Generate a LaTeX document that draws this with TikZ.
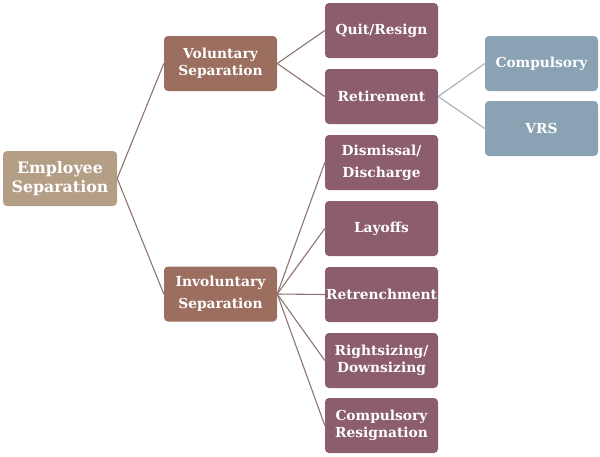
\documentclass[tikz,border=0pt]{standalone}
\usepackage{fontspec}
\setmainfont{DejaVu Serif}
\definecolor{tanc}{HTML}{B49F86}
\definecolor{brownc}{HTML}{9C6E5F}
\definecolor{purplec}{HTML}{8C5C6F}
\definecolor{bluec}{HTML}{8AA3B4}
\definecolor{linec}{HTML}{8E7470}
\definecolor{bluelinec}{HTML}{A3AFB8}
\begin{document}
\begin{tikzpicture}[x=1pt,y=-1pt,
  box/.style={rounded corners=4pt, minimum width=113pt, minimum height=55pt, inner sep=1pt,
    text=white, font=\bfseries\fontsize{13.8}{17}\selectfont, align=center},
  widebox/.style={box, font=\bfseries\fontsize{13.8}{22}\selectfont},
  rootbox/.style={box, fill=tanc, minimum width=114pt, font=\bfseries\fontsize{15.8}{19}\selectfont},
  midbox/.style={box, fill=brownc},
  leafbox/.style={box, fill=purplec},
  bluebox/.style={box, fill=bluec},
  conn/.style={draw=linec, line width=1.1pt},
  bconn/.style={draw=bluelinec, line width=1.1pt}]
\useasboundingbox (0,0) rectangle (600,456);
\node[rootbox] (emp) at (60,178.5) {Employee\\Separation};
\node[midbox] (vol) at (220.5,63.5) {Voluntary\\Separation};
\node[midbox, widebox] (inv) at (220.5,294) {Involuntary\\Separation};
\node[leafbox] (quit) at (381.5,30.5) {Quit/Resign};
\node[leafbox] (ret) at (381.5,96.5) {Retirement};
\node[leafbox, widebox] (dis) at (381.5,162.5) {Dismissal/\\Discharge};
\node[leafbox] (lay) at (381.5,228.5) {Layoffs};
\node[leafbox] (retr) at (381.5,294.5) {Retrenchment};
\node[leafbox] (right) at (381.5,360.5) {Rightsizing/\\Downsizing};
\node[leafbox] (cres) at (381.5,425.5) {Compulsory\\Resignation};
\node[bluebox] (comp) at (541.5,63.5) {Compulsory};
\node[bluebox] (vrs) at (541.5,128.5) {VRS};
\draw[conn] (emp.east) -- (vol.west);
\draw[conn] (emp.east) -- (inv.west);
\draw[conn] (vol.east) -- (quit.west);
\draw[conn] (vol.east) -- (ret.west);
\foreach \n in {dis,lay,retr,right,cres} \draw[conn] (inv.east) -- (\n.west);
\draw[bconn] (ret.east) -- (comp.west);
\draw[bconn] (ret.east) -- (vrs.west);
\end{tikzpicture}
\end{document}
